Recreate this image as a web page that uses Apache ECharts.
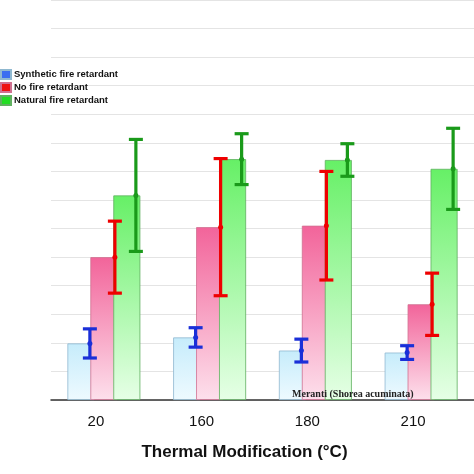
<!DOCTYPE html>
<html><head><meta charset="utf-8">
<script src="https://cdn.jsdelivr.net/npm/echarts@6/dist/echarts.min.js"></script>
<style>html,body{margin:0;padding:0;background:#fff}#c{width:474px;height:474px}</style>
</head><body><div id="c"></div>
<script>
var categories = ['20', '160', '180', '210'];
var seriesNames = ['Synthetic fire retardant', 'No fire retardant', 'Natural fire retardant'];
var syntheticVals = [1.98, 2.19, 1.73, 1.66];
var syntheticErr = [0.51, 0.34, 0.40, 0.24];
var noneVals = [5.0, 6.05, 6.1, 3.35];
var noneErr = [1.26, 2.4, 1.9, 1.09];
var naturalVals = [7.16, 8.43, 8.4, 8.09];
var naturalErr = [1.96, 0.89, 0.57, 1.42];

var legendColors = ['#3a6df0', '#ee1111', '#22dd22'];
var errColors = ['#1a2fd8', '#ee0000', '#1a9a1a'];
var grads = [['#c6ecfb', '#eefaff'], ['#f2649a', '#fde0ec'], ['#66f066', '#e6ffe6']];
var borders = ['#8fb8d0', '#d07090', '#60b060'];
var vals = [syntheticVals, noneVals, naturalVals];
var errs = [syntheticErr, noneErr, naturalErr];
var errShift = [-14, 11, 32];   // error bar x offset from category centre

var myChart = echarts.init(document.getElementById('c'));
var series = [];
vals.forEach(function (v, i) {
    series.push({
        name: seriesNames[i], type: 'bar', data: v,
        barWidth: 27, barGap: '-15%',
        itemStyle: {
            color: new echarts.graphic.LinearGradient(0, 0, 0, 1, [{offset: 0, color: grads[i][0]}, {offset: 1, color: grads[i][1]}]),
            borderColor: borders[i], borderWidth: 0.8
        },
        z: 2
    });
});
vals.forEach(function (v, i) {
    series.push({
        type: 'custom', z: 5,
        data: v.map(function (val, j) { return [j, val - errs[i][j], val + errs[i][j], val]; }),
        renderItem: function (params, api) {
            var lo = api.coord([api.value(0), api.value(1)]);
            var hi = api.coord([api.value(0), api.value(2)]);
            var mid = api.coord([api.value(0), api.value(3)]);
            var x = lo[0] + errShift[i] - 8 + 8;
            var half = 7;
            var st = {stroke: errColors[i], lineWidth: 3.2};
            return {type: 'group', children: [
                {type: 'line', shape: {x1: x, y1: lo[1], x2: x, y2: hi[1]}, style: st},
                {type: 'line', shape: {x1: x - half, y1: lo[1], x2: x + half, y2: lo[1]}, style: st},
                {type: 'line', shape: {x1: x - half, y1: hi[1], x2: x + half, y2: hi[1]}, style: st},
                {type: 'circle', shape: {cx: x, cy: mid[1], r: 2.5}, style: {fill: errColors[i]}}
            ]};
        }
    });
});

var option = {
    animation: false,
    legend: {
        orient: 'vertical', left: -5, top: 64, itemWidth: 10, itemHeight: 9, itemGap: 2,
        icon: 'rect',
        textStyle: {fontSize: 9.5, fontWeight: 'bold', fontFamily: 'Liberation Sans', color: '#111', padding: [0, 0, 0, -2]},
        data: seriesNames.map(function (n, i) { return {name: n, itemStyle: {color: legendColors[i]}}; })
    },
    grid: {left: 51, right: -19, top: -10, bottom: 74},
    xAxis: {
        type: 'category', data: categories,
        name: 'Thermal Modification (°C)', nameLocation: 'middle', nameGap: 44,
        nameTextStyle: {fontSize: 17, fontWeight: 'bold', fontFamily: 'Liberation Sans', color: '#111', padding: [0, 36, 0, 0]},
        axisLine: {lineStyle: {color: '#333', width: 1.5}},
        axisTick: {show: false},
        axisLabel: {fontSize: 15, color: '#111', fontFamily: 'Liberation Sans', margin: 14, padding: [0, 16, 0, 0]},
        splitLine: {show: false}
    },
    yAxis: {
        type: 'value', min: 0, max: 14, interval: 1,
        axisLabel: {show: false}, axisLine: {show: false}, axisTick: {show: false},
        splitLine: {lineStyle: {color: '#e4e4e4'}}
    },
    graphic: [{
        type: 'text', left: 292, top: 389, z: 10,
        style: {text: 'Meranti (Shorea acuminata)', font: 'bold 10px "Liberation Serif"', fill: '#222'}
    }],
    series: series
};
if (option && typeof option === "object") {
    myChart.setOption(option, true);
}
</script></body></html>
